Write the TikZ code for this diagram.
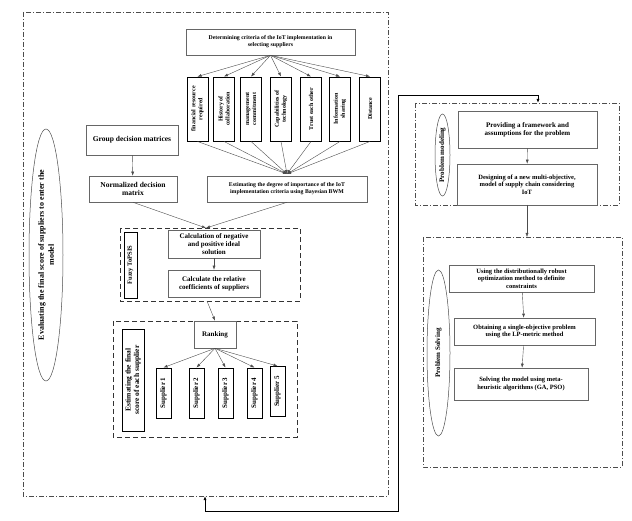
\documentclass[tikz,border=0pt]{standalone}
\usepackage{fontspec}
\setmainfont{Liberation Serif}
\usetikzlibrary{arrows.meta,shapes.geometric}
\tikzset{
 box/.style={draw=black!60,line width=0.6pt,fill=white,align=center,font=\bfseries\fontsize{5.8}{6.8}\selectfont,inner sep=1pt},
 vbox/.style={draw=black,line width=0.9pt,fill=white,align=center,font=\bfseries\fontsize{5.5}{6.5}\selectfont,inner sep=1pt},
 ar/.style={-{Latex[length=4pt,width=3pt]},draw=black!70,line width=0.4pt},
 dd/.style={draw=black!70,line width=0.7pt,dash pattern=on 5pt off 2pt on 1pt off 2pt},
 dsh/.style={draw=black!80,line width=0.8pt,dash pattern=on 5pt off 3pt},
 ell/.style={draw=black!70,line width=0.5pt,ellipse,inner sep=0pt},
}
\begin{document}
\begin{tikzpicture}[x=1pt,y=-1pt]
\useasboundingbox (0,0) rectangle (632,521);
% big outer box
\draw[dd] (23,12) rectangle (388,496);
\node[ell,minimum width=34,minimum height=252] (e1) at (46,255) {};
\node[rotate=90,align=center,font=\bfseries\fontsize{8}{10}\selectfont] (e1t) at (46,255) {Evaluating the final score of suppliers  to enter the\\model};
% criteria
\node[box,minimum width=169,minimum height=26] (crit) at (270.5,42) {Determining  criteria  of the IoT implementation in\\selecting suppliers};
\foreach \n/\cx/\t in {c1/197.5/{financial resource\\required},c2/224/{History of\\collaboration},c3/251/{management\\commitment},c4/281/{Capabilities of\\technology},c5/311/{Trust each other},c6/340/{Information\\sharing},c7/370/{Distance}}{
 \node[vbox,minimum width=21,minimum height=64] (\n) at (\cx,109) {};
 \node[rotate=90,align=center,font=\bfseries\fontsize{6}{7}\selectfont] at (\cx,109) {\t};
}
\coordinate (conv) at (287,174);
\foreach \n in {c1,c2,c3,c4,c5,c6,c7}{\draw[ar] (crit.south) -- (\n.north);\draw[ar] (\n.south) -- (conv);}
\node[box,minimum width=92,minimum height=30,font=\bfseries\fontsize{7.5}{8.5}\selectfont] (gdm) at (132,140) {Group decision matrices};
\node[box,minimum width=88,minimum height=26,font=\bfseries\fontsize{7.5}{8.5}\selectfont] (ndm) at (133,189) {Normalized decision\\matrix};
\node[box,minimum width=160,minimum height=26] (est) at (287,189) {Estimating the degree of importance of the IoT\\implementation criteria using Bayesian BWM};
\draw[ar] (gdm) -- (ndm);
% fuzzy
\draw[dsh] (120,228) rectangle (300,301);
\node[vbox,minimum width=13,minimum height=66] (ft) at (130.5,265) {};
\node[rotate=90,font=\bfseries\fontsize{6.5}{7.5}\selectfont] at (130.5,265) {Fuzzy ToPSIS};
\node[box,minimum width=92,minimum height=28,font=\bfseries\fontsize{7}{8}\selectfont] (cn) at (214,244) {Calculation of negative\\and positive ideal\\solution};
\node[box,minimum width=92,minimum height=27,font=\bfseries\fontsize{7}{8}\selectfont] (cr) at (214,283.5) {Calculate the relative\\coefficients of suppliers};
\coordinate (fz) at (206,228);
\draw[ar] (ndm.south) -- (fz);
\draw[ar] (est.south) -- (fz);
\draw[ar] (cn) -- (cr);
% ranking
\draw[dsh] (113,321) rectangle (297,437);
\node[box,minimum width=42,minimum height=27,font=\bfseries\fontsize{7}{8}\selectfont] (rk) at (215,334.5) {Ranking};
\draw[ar] (207,301) -- (rk.north);
\node[vbox,minimum width=22,minimum height=102] (es) at (133,380) {};
\node[rotate=90,align=center,font=\bfseries\fontsize{7.5}{8.5}\selectfont] at (133,380) {Estimating  the final\\score of each supplier};
\foreach \n/\cx/\cy/\k in {s1/163.5/393/1,s2/196.5/393/2,s3/225.5/393/3,s4/254.5/393/4,s5/277.5/391.5/5}{
 \node[vbox,minimum width=15,minimum height=50] (\n) at (\cx,\cy) {};
 \node[rotate=90,font=\bfseries\fontsize{7}{8}\selectfont] at (\cx,\cy) {Supplier \k};
 \draw[ar] (rk.south) -- (\n.north);
}
% right side
\draw[dd] (415,103) rectangle (619,205);
\node[ell,minimum width=15,minimum height=82] (e2) at (442.5,155) {};
\node[rotate=90,font=\bfseries\fontsize{7}{8}\selectfont] at (442.5,155) {Problem modeling};
\node[box,minimum width=139,minimum height=37,font=\bfseries\fontsize{7}{8}\selectfont] (pf) at (527.5,129.5) {Providing a framework and\\assumptions for the problem};
\node[box,minimum width=140,minimum height=41,font=\bfseries\fontsize{6.5}{7.5}\selectfont] (dm) at (527,184.5) {Designing of a new multi-objective,\\model of supply chain considering\\IoT};
\draw[ar] (pf) -- (dm);
\draw[dd] (423,237) rectangle (622,467);
\node[ell,minimum width=23,minimum height=166] (e3) at (438.5,353) {};
\node[rotate=90,font=\bfseries\fontsize{7}{8}\selectfont] at (438.5,353) {Problem Solving};
\node[box,minimum width=145,minimum height=27,font=\bfseries\fontsize{6.5}{7.5}\selectfont] (u1) at (521.5,278.5) {Using the distributionally robust\\optimization method to definite\\constraints};
\node[box,minimum width=141,minimum height=27,font=\bfseries\fontsize{6.5}{7.5}\selectfont] (u2) at (524.5,331.5) {Obtaining a single-objective problem\\using the LP-metric method};
\node[box,minimum width=134,minimum height=32,font=\bfseries\fontsize{6.5}{7.5}\selectfont] (u3) at (521,384) {Solving  the model using meta-\\heuristic algorithms (GA, PSO)};
\draw[ar] (u1) -- (u2);
\draw[ar] (u2) -- (u3);
\coordinate (mb) at (527,205);
\coordinate (st) at (527,237);
\draw[ar] (mb) -- (st);
% loop connector
\coordinate (bb) at (205,496);
\coordinate (mt) at (538,103);
\draw[{Latex[length=4pt,width=3pt]}-{Latex[length=4pt,width=3pt]},line width=0.8pt] (bb) |- (398,511) |- (538,95) -- (mt);
\end{tikzpicture}
\end{document}
